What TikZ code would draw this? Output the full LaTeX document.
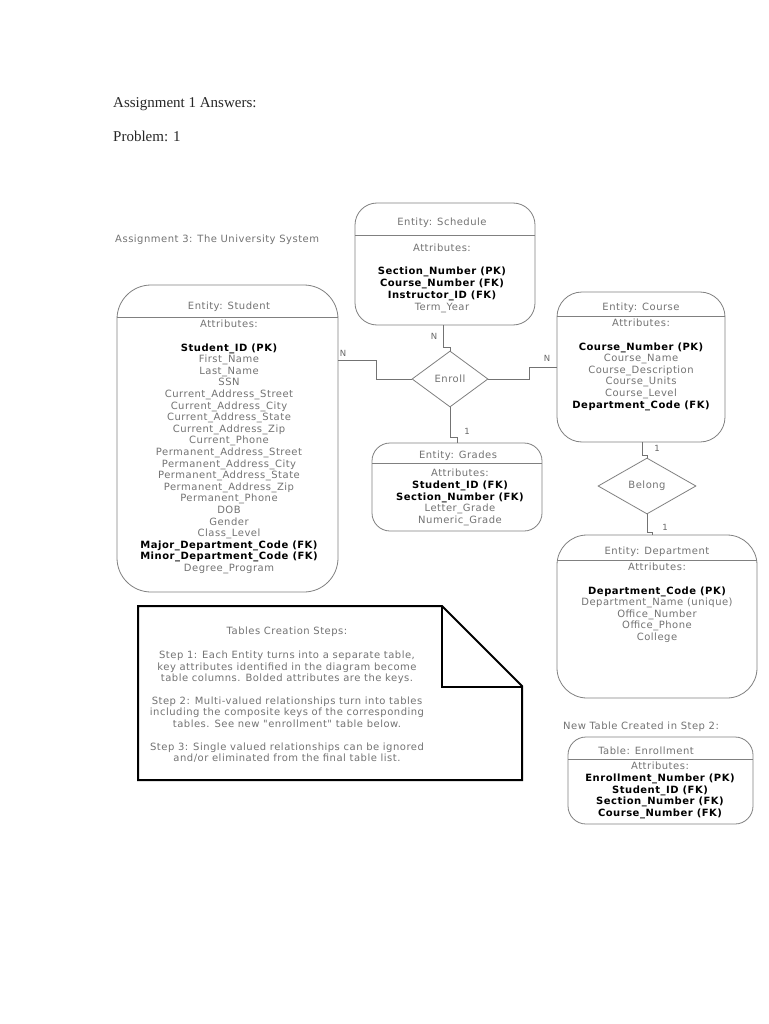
\documentclass[tikz,border=0pt]{standalone}
\usepackage{fontspec}
\setmainfont{Liberation Serif}
\newfontfamily\vf[LetterSpace=5]{DejaVu Sans}
\usetikzlibrary{shapes.geometric}
\newcommand\kb[1]{{\bfseries\color{black}#1}}
\tikzset{
  ent/.style={draw=black!50, line width=0.8pt, inner sep=0pt},
  sepline/.style={draw=black!50, line width=0.8pt},
  conn/.style={draw=black!55, line width=0.7pt},
  txt/.style={font=\vf\fontsize{10}{11.6}\selectfont, text=black!55, align=center, inner sep=0pt},
  lbl/.style={font=\vf\fontsize{8.5}{10}\selectfont, text=black!60, inner sep=0pt},
  rel/.style={diamond, draw=black!50, line width=0.8pt, inner sep=0pt, font=\vf\fontsize{10}{12}\selectfont, text=black!55},
  heading/.style={font=\fontsize{15}{18}\selectfont, text=black!85, inner sep=0pt, anchor=base west}
}
\begin{document}
\begin{tikzpicture}[x=1pt,y=-1pt]
\useasboundingbox[fill=white] (0,0) rectangle (768,1024);

% headings
\node[heading] (h1) at (113,108) {Assignment 1 Answers:};
\node[heading] (h2) at (113,142) {Problem: 1};
\node[txt, anchor=west] (sys) at (115,240) {Assignment 3: The University System};

% Schedule
\node[ent, rounded corners=22pt, minimum width=180pt, minimum height=122pt] (sched) at (445,264) {};
\draw[sepline] (355,235) -- (535,235);
\node[txt] (schedT) at (442,223) {Entity: Schedule};
\node[txt, anchor=north, font=\vf\fontsize{10}{12}\selectfont] (schedA) at (442,244) {Attributes:\\[11pt]\kb{Section\_Number (PK)}\\\kb{Course\_Number (FK)}\\\kb{Instructor\_ID (FK)}\\Term\_Year};

% Student
\node[ent, rounded corners=34pt, minimum width=221pt, minimum height=307pt] (student) at (227.5,438.5) {};
\draw[sepline] (117,317) -- (338,317);
\node[txt] (studT) at (229,307) {Entity: Student};
\node[txt, anchor=north] (studA) at (229,320) {Attributes:\\[11.6pt]\kb{Student\_ID (PK)}\\First\_Name\\Last\_Name\\SSN\\Current\_Address\_Street\\Current\_Address\_City\\Current\_Address\_State\\Current\_Address\_Zip\\Current\_Phone\\Permanent\_Address\_Street\\Permanent\_Address\_City\\Permanent\_Address\_State\\Permanent\_Address\_Zip\\Permanent\_Phone\\DOB\\Gender\\Class\_Level\\\kb{Major\_Department\_Code (FK)}\\\kb{Minor\_Department\_Code (FK)}\\Degree\_Program};

% Course
\node[ent, rounded corners=25pt, minimum width=168pt, minimum height=150pt] (course) at (641,367) {};
\draw[sepline] (557,316) -- (725,316);
\node[txt] (courT) at (641,308) {Entity: Course};
\node[txt, anchor=north] (courA) at (641,319) {Attributes:\\[11.6pt]\kb{Course\_Number (PK)}\\Course\_Name\\Course\_Description\\Course\_Units\\Course\_Level\\\kb{Department\_Code (FK)}};

% Grades
\node[ent, rounded corners=18pt, minimum width=170pt, minimum height=88pt] (grades) at (457,487) {};
\draw[sepline] (372,463) -- (542,463);
\node[txt] (gradT) at (458,456) {Entity: Grades};
\node[txt, anchor=north] (gradA) at (460,469) {Attributes:\\\kb{Student\_ID (FK)}\\\kb{Section\_Number (FK)}\\Letter\_Grade\\Numeric\_Grade};

% Department
\node[ent, rounded corners=30pt, minimum width=200pt, minimum height=163pt] (dept) at (657,616.5) {};
\draw[sepline] (557,560) -- (757,560);
\node[txt] (deptT) at (657,552) {Entity: Department};
\node[txt, anchor=north] (deptA) at (657,563) {Attributes:\\[11.6pt]\kb{Department\_Code (PK)}\\Department\_Name (unique)\\Office\_Number\\Office\_Phone\\College};

% Enrollment
\node[txt, anchor=west] (newT) at (563,727) {New Table Created in Step 2:};
\node[ent, rounded corners=18pt, minimum width=185pt, minimum height=87pt] (enrl) at (660.5,780.5) {};
\draw[sepline] (568,759) -- (753,759);
\node[txt] (enrlT) at (646,751) {Table: Enrollment};
\node[txt, anchor=north] (enrlA) at (660,762) {Attributes:\\\kb{Enrollment\_Number (PK)}\\\kb{Student\_ID (FK)}\\\kb{Section\_Number (FK)}\\\kb{Course\_Number (FK)}};

% Relationships
\node[rel, minimum width=76pt, minimum height=56pt] (enroll) at (450,379) {Enroll};
\node[rel, minimum width=98pt, minimum height=56pt] (belong) at (647,486) {Belong};

\coordinate (sj) at (443,347);
\coordinate (stj) at (376,360);
\coordinate (cj) at (529,367);
\coordinate (gj) at (457,437);
\coordinate (bj1) at (642,455);
\coordinate (bj2) at (652,532);

\draw[conn] (sched.south -| sj) -- (sj) -| (enroll.north);
\draw[conn] (student.east |- stj) -- (stj) |- (enroll.west);
\draw[conn] (enroll.east) -| (cj) -- (course.west |- cj);
\draw[conn] (enroll.south) |- (gj) -- (grades.north -| gj);
\draw[conn] (course.south -| bj1) -- (bj1) -| (belong.north);
\draw[conn] (belong.south) |- (bj2) -- (dept.north -| bj2);

\node[lbl] (n1) at (434,336) {N};
\node[lbl] (n2) at (343,353) {N};
\node[lbl] (n3) at (547,358) {N};
\node[lbl] (o1) at (467,431) {1};
\node[lbl] (o2) at (657,448) {1};
\node[lbl] (o3) at (665,527) {1};

% Note
\draw[line width=2pt, line join=miter] (138,606) -- (442,606) -- (522,686) -- (522,780) -- (138,780) -- cycle;
\draw[line width=2pt] (442,606) -- (442,687) -- (522,687);
\node[txt, anchor=north] (note) at (287,627) {Tables Creation Steps:\\[12pt]Step 1: Each Entity turns into a separate table,\\key attributes identified in the diagram become\\table columns. Bolded attributes are the keys.\\[11pt]Step 2: Multi-valued relationships turn into tables\\including the composite keys of the corresponding\\tables. See new "enrollment" table below.\\[11pt]Step 3: Single valued relationships can be ignored\\and/or eliminated from the final table list.};
\end{tikzpicture}
\end{document}
